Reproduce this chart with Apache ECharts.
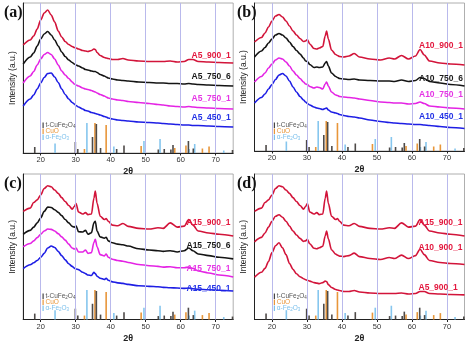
<!DOCTYPE html>
<html><head><meta charset="utf-8">
<script src="https://cdn.jsdelivr.net/npm/echarts@6/dist/echarts.min.js"></script>
<style>html,body{margin:0;padding:0;background:#fff}#c{width:474px;height:344px}</style>
</head><body><div id="c"></div>
<script>
// 2-theta sampling positions (degrees)
const theta = [15,17,18,19,20,21,22,23,24,25,26,27,28,29,29.6,30.1,30.8,32,32.8,33.5,34.5,35.2,35.6,36.1,37,38.2,38.7,39.3,40.5,42,43.5,45,48,51,53.5,55,57,59,61,62.3,63.5,65,68,71,75];

// Panel (a) – stacked intensities (a.u.)
const A5_900_1 = [108,113,117,124,133,140,143,138,131,122,116,111.5,108.5,106.5,105.5,105,104,102.5,102,101.5,102.5,104,103.5,100.5,97.5,95.5,95,94.5,93.5,93.5,94.5,93,92,91.5,91.5,91.5,92,91,91.5,93.5,93.5,91.5,91,90.5,90];
const A5_750_6 = [89,96,100,107,114,119,121.5,118,113,107,101,96.5,93,90.5,89,88,87,85,83.5,83,82,81.5,81.5,80.5,78.5,77,76,75,74,73,72.5,72,71,70.5,70,70,69.5,69.5,69,69.5,69,68.5,68,67.5,67];
const A5_750_1 = [70,77,81.5,88,94,98.5,100.5,98.5,94,88,82,78,74.5,71,69,68,67,65,64,63.5,62.5,61.5,61,60,58.5,57,56,55,54,53,52.5,51.5,50.5,49.5,48.5,48,47,46.5,46,46.5,46,45.5,45,44.5,44];
const A5_450_1 = [47,54,58,64,70,75.5,79.5,80,76,70.5,64,58.5,54,50.5,49,47.5,46,44,42.5,42,40.5,40,39.5,39,38,36.5,36,35,34,33,32.5,32,31,30.5,30,29.5,29,28.5,28,28,27.5,27.5,27,26.5,26];

// Panel (b)
const A10_900_1 = [109,113.5,118,124,130,135,136.5,134,130,125,120,116,112.5,109.5,110,111.5,107,102.5,102,103,104.5,115,120,112,101,96.5,95.5,94.5,94,95,97.5,94,92,91,93,92,95.5,92,95,101.5,96,90,88,87,86];
const A10_750_6 = [94,100,103.5,108,112,116,117.5,116,113,109,104.5,100.5,97,93,90,89.5,86.5,83.5,84,83.5,84,88,89.5,85,78,74.5,73.5,72.5,72,71.5,72,71,70.5,70,70,69.5,71,69.5,70.5,73.5,72.5,69.5,68,66.5,65];
const A10_750_1 = [69,74.5,78,83,87,91,93,92,89,85,80,76,72.5,69,67,66.5,64.5,63,64,63.5,62,67,69,65,59,56,55.5,54.5,54,53.5,53,52,50.5,49,48.5,48,48,47,47.5,49,47.5,45,44,43,42];
const A10_450_1 = [48,53.5,57,62,66.5,71.5,76,77.5,75,70,64,59,54.5,51,49,47.5,46,44,43,42.5,41.5,42.5,43,41,39,38,37.5,36.5,35.5,34.5,34,33,31,29.5,28.5,28,27.5,27,26.5,26.5,26,25.5,24.5,23.5,22.5];

// Panel (c)
const A15_900_1 = [110,113.3,119,121.7,126.7,133.3,136,135,131.7,128.3,124,120,116,112.3,115,118,109.3,107.3,108.7,106.7,107.3,123.3,130.7,118.3,105,101.7,102.7,100,96,95.3,97.7,94.7,92.7,92,93.3,92.7,98.3,94,95,101.7,96,90,88,86.7,85];
const A15_750_6 = [86.7,90.7,94,98.3,103.3,110,114.3,114,111.7,109,105.7,101.7,98.3,94.7,94,95.3,89.3,89,90.7,86.7,88.3,98.3,100,90,84,82.7,83.7,80,78,76.7,76,74.7,72,70.7,70,69.3,70,68.7,70,72.7,70,66.7,65,63.3,61.7];
const A15_750_1 = [74,77.3,80,83.3,86.7,90,92,91.7,90,87.3,84,80.7,76.7,72.7,71.7,72.7,68.7,68.7,70.7,67.3,68,78.3,81.7,74,66,64.7,66.7,63.3,61.3,60,59.3,58,56,54.7,54,53.3,53.7,52.7,52.7,53.3,52,49.3,47.3,45.3,43.3];
const A15_450_1 = [51.7,55.7,57.7,60,63.3,67.3,72.7,74.7,73.3,69.3,65,60.7,56.7,54,52.3,51.3,50.7,48,46.7,45.3,44.7,48,46.7,44,42,40.7,42,40,38.3,37.3,36.7,35.7,34.3,33.7,33.3,32.7,32.3,32,31.7,32,31.3,30.7,30.3,29.7,29];

// Panel (d) vertical stacking offsets of the 900 °C patterns
const offsetD_A15 = 0, offsetD_A10 = -30, offsetD_A5 = -65;

// Reference patterns: [2theta, relative intensity]
const tCuFe2O4 = [[18.3,6],[29.9,11],[30.6,4],[34.8,16],[35.9,29],[37.1,5],[41.7,4],[43.8,7.5],[53.6,3.5],[55.3,4],[57.2,3.5],[57.8,8],[62.2,12],[63.6,4.5],[74.8,3]];
const CuO = [[32.5,4],[35.5,30],[38.7,28],[48.7,7],[58.3,5],[61.5,7.5],[66.2,4.5],[68.1,6.5]];
const aFe2O3 = [[24.1,9.5],[33.2,30],[40.9,6.5],[49.5,12],[54.1,14],[62.4,4],[64.0,9],[72.3,2.5]];

const xTicks = [20,30,40,50,60,70];

const RED='#d2143a', BLK='#141414', MAG='#e424e4', BLU='#1e1ee4';
const LRED='#e3173e', LBLK='#1a1a1a', LMAG='#e535e5', LBLU='#2433e6';

const panels = [
  {tag:'(a)', left:23.2, top:3, h:150, tagX:4, tagY:5, labX:191.5,
   curves:[
     {n:'A5_900_1', d:A5_900_1, off:0, c:RED, lc:LRED, ly:54},
     {n:'A5_750_6', d:A5_750_6, off:0, c:BLK, lc:LBLK, ly:75},
     {n:'A5_750_1', d:A5_750_1, off:0, c:MAG, lc:LMAG, ly:96.5},
     {n:'A5_450_1', d:A5_450_1, off:0, c:BLU, lc:LBLU, ly:115.5}]},
  {tag:'(b)', left:254.5, top:3, h:148, tagX:237, tagY:5, labX:419,
   curves:[
     {n:'A10_900_1', d:A10_900_1, off:0, c:RED, lc:LRED, ly:43.5},
     {n:'A10_750_6', d:A10_750_6, off:0, c:BLK, lc:LBLK, ly:77},
     {n:'A10_750_1', d:A10_750_1, off:0, c:MAG, lc:LMAG, ly:93},
     {n:'A10_450_1', d:A10_450_1, off:0, c:BLU, lc:LBLU, ly:115}]},
  {tag:'(c)', left:23.2, top:174, h:148, tagX:4, tagY:176, labX:186.5,
   curves:[
     {n:'A15_900_1', d:A15_900_1, off:0, c:RED, lc:LRED, ly:49.5},
     {n:'A15_750_6', d:A15_750_6, off:0, c:BLK, lc:LBLK, ly:73},
     {n:'A15_750_1', d:A15_750_1, off:0, c:MAG, lc:LMAG, ly:96},
     {n:'A15_450_1', d:A15_450_1, off:0, c:BLU, lc:LBLU, ly:116}]},
  {tag:'(d)', left:254.5, top:174, h:148, tagX:237, tagY:176, labX:418.5,
   curves:[
     {n:'A15_900_1', d:A15_900_1, off:offsetD_A15, c:RED, lc:LRED, ly:49.5},
     {n:'A10_900_1', d:A10_900_1, off:offsetD_A10, c:RED, lc:LRED, ly:74.5},
     {n:'A5_900_1', d:A5_900_1, off:offsetD_A5, c:RED, lc:LRED, ly:114.5}]}
];

const grid=[], xAxis=[], yAxis=[], series=[], graphic=[];
const W = 210;
panels.forEach((p,i)=>{
  grid.push({left:p.left, top:p.top, width:W, height:p.h, show:true, borderColor:'#9a9a9a', borderWidth:0.8});
  xAxis.push({gridIndex:i, type:'value', min:15, max:75,
    axisLine:{show:true, onZero:false, lineStyle:{color:'#222', width:1}},
    axisTick:{show:true, customValues:xTicks, length:2.5, lineStyle:{color:'#222'}},
    axisLabel:{customValues:xTicks, fontSize:7.5, color:'#333', margin:3, fontFamily:'Arial'},
    splitLine:{show:false},
    name:'2θ', nameLocation:'middle', nameGap:14.5,
    nameTextStyle:{fontWeight:'bold', fontSize:9, color:'#222', fontFamily:'Arial'}});
  yAxis.push({gridIndex:i, type:'value', min:0, max:p.h,
    axisLine:{show:true, onZero:false, lineStyle:{color:'#222', width:1}},
    axisTick:{show:false}, axisLabel:{show:false}, splitLine:{show:false},
    name:'Intensity (a.u.)', nameLocation:'middle', nameGap:6,
    nameTextStyle:{fontSize:8.5, color:'#222', fontFamily:'Arial'}});
  series.push({type:'line', xAxisIndex:i, yAxisIndex:i, data:[], z:1, silent:true,
    markLine:{silent:true, symbol:'none', animation:false, label:{show:false},
      lineStyle:{color:'#b9b9ec', type:'solid', width:1},
      data:xTicks.map(v=>({xAxis:v}))}});
  [[aFe2O3,'#86c6ee'],[CuO,'#e8963a'],[tCuFe2O4,'#4e4a48']].forEach(([arr,col])=>{
    series.push({type:'bar', xAxisIndex:i, yAxisIndex:i, data:arr, barWidth:1.6, barGap:'-100%',
      itemStyle:{color:col}, z:2, silent:true});
  });
  p.curves.forEach(cv=>{
    series.push({type:'line', name:cv.n, xAxisIndex:i, yAxisIndex:i,
      data:theta.map((t,k)=>[t, cv.d[k]+cv.off]),
      showSymbol:false, smooth:0.3, smoothMonotone:'x',
      lineStyle:{color:cv.c, width:1.6}, itemStyle:{color:cv.c}, z:3, silent:true});
    graphic.push({type:'text', left:p.labX, top:p.top+cv.ly-5.5,
      style:{text:cv.n, fill:cv.lc, font:'bold 8.5px Arial'}, z:10});
  });
  graphic.push({type:'text', left:p.tagX, top:p.tagY,
    style:{text:p.tag, fill:'#111', font:'bold 16px "Liberation Serif", "Times New Roman", serif'}, z:10});
  const lx = p.left+19.3, ly = p.top+118.5;
  const leg = [
    ['t-CuFe{s|2}O{s|4}','#555','#444'],
    ['CuO','#e8963a','#e8963a'],
    ['α-Fe{s|2}O{s|3}','#7cc0ec','#7cc0ec']];
  leg.forEach((L,k)=>{
    graphic.push({type:'rect', shape:{x:lx, y:ly+k*6+1, width:1.2, height:5.5}, style:{fill:L[2]}, z:10});
    graphic.push({type:'text', left:lx+3, top:ly+k*6,
      style:{text:L[0], fill:L[1], font:'6.5px Arial',
        rich:{s:{fontSize:4.5, fill:L[1], fontFamily:'Arial', verticalAlign:'bottom', padding:[3,0,0,0]}}}, z:10});
  });
});

const chart = echarts.init(document.getElementById('c'), null, {renderer:'canvas'});
chart.setOption({animation:false, backgroundColor:'#fff', grid, xAxis, yAxis, series, graphic});
</script></body></html>
